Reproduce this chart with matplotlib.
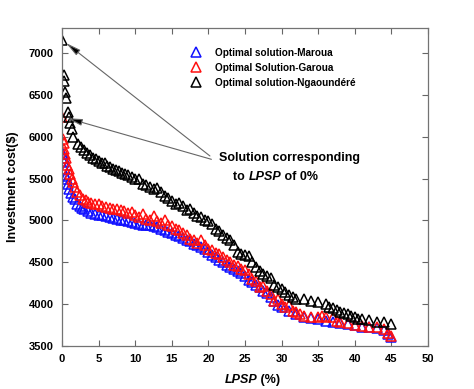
import matplotlib
matplotlib.use("Agg")
import matplotlib.pyplot as plt

plt.rcParams['font.family'] = ['Liberation Sans', 'DejaVu Sans']

# Optimal solutions (LPSP %, investment cost $)
maroua_lpsp = [0.1, 0.2, 0.3, 0.4, 0.5, 0.65, 0.8, 1.0, 1.2, 1.5, 1.8, 2.1, 2.4, 2.7, 3.0, 3.5,
               4.0, 4.5, 5.0, 5.5, 6.0, 6.5, 7.0, 7.5, 8.0, 8.5, 9.0, 9.5, 10.0, 10.5, 11.0, 11.5,
               12.0, 12.5, 13.0, 13.5, 14.0, 14.5, 15.0, 15.5, 16.0, 16.5, 17.0, 17.5, 18.0, 18.5,
               19.0, 19.5, 20.0, 20.5, 21.0, 21.5, 22.0, 22.5, 23.0, 23.5, 24.0, 24.5, 25.0, 25.5,
               26.0, 26.5, 27.0, 27.5, 28.0, 28.5, 29.0, 29.5, 30.0, 31.0, 32.0, 33.0, 34.0, 35.0,
               36.0, 37.0, 38.0, 39.0, 40.0, 41.0, 42.0, 43.0, 44.0, 44.5, 45.0]
maroua_cost = [5790, 5750, 5700, 5620, 5530, 5490, 5440, 5370, 5330, 5280, 5250, 5200, 5170, 5150, 5130, 5110,
               5090, 5080, 5070, 5060, 5050, 5040, 5030, 5020, 5010, 5000, 4990, 4985, 4970, 4960, 4950, 4945,
               4940, 4930, 4920, 4900, 4880, 4860, 4850, 4830, 4810, 4790, 4770, 4750, 4720, 4700,
               4680, 4660, 4620, 4590, 4560, 4530, 4500, 4470, 4440, 4420, 4400, 4370, 4330, 4290,
               4260, 4230, 4200, 4160, 4130, 4080, 4030, 3990, 3960, 3920, 3880, 3850, 3830, 3820,
               3800, 3790, 3770, 3760, 3750, 3730, 3720, 3710, 3690, 3640, 3600]

garoua_lpsp = [0, 0.1, 0.2, 0.3, 0.4, 0.5, 0.7, 0.9, 1.1, 1.3, 1.5, 1.8, 2.1, 2.4, 2.8, 3.2, 3.6,
               4.0, 4.5, 5.0, 5.5, 6.0, 6.5, 7.0, 7.5, 8.0, 8.5, 9.0, 9.5, 10.0, 10.5, 11.0, 11.5,
               12.0, 12.5, 13.0, 13.5, 14.0, 14.5, 15.0, 15.5, 16.0, 16.5, 17.0, 17.5, 18.0, 18.5,
               19.0, 19.5, 20.0, 20.5, 21.0, 21.5, 22.0, 22.5, 23.0, 23.5, 24.0, 24.5, 25.0, 25.5,
               26.0, 26.5, 27.0, 27.5, 28.0, 28.5, 29.0, 29.5, 30.0, 30.5, 31.0, 31.5, 32.0, 32.5,
               33.0, 34.0, 35.0, 35.5, 36.0, 37.0, 37.5, 38.0, 39.0, 40.0, 41.0, 42.0, 43.0, 44.0,
               44.5, 45.0]
garoua_cost = [6230, 5970, 5920, 5850, 5790, 5740, 5660, 5610, 5560, 5500, 5455, 5400, 5340, 5300, 5260, 5240, 5225,
               5210, 5200, 5190, 5170, 5160, 5150, 5140, 5130, 5120, 5110, 5090, 5100, 5070, 5040, 5080, 5020,
               5010, 5050, 4990, 4970, 5010, 4950, 4935, 4900, 4880, 4850, 4830, 4780, 4760, 4730,
               4760, 4700, 4660, 4640, 4610, 4600, 4560, 4530, 4500, 4470, 4450, 4420, 4410, 4360,
               4300, 4280, 4200, 4220, 4150, 4120, 4040, 4060, 4000, 3970, 3990, 3920, 3910, 3880,
               3860, 3850, 3840, 3860, 3840, 3850, 3800, 3780, 3770, 3750, 3740, 3720, 3720, 3700,
               3650, 3620]

ngaoundere_lpsp = [0, 0.2, 0.3, 0.4, 0.55, 0.8, 1.0, 1.1, 1.3, 1.5, 2.2, 2.6, 3.0, 3.4, 3.8, 4.2, 4.6,
                   5.0, 5.4, 5.8, 6.2, 6.6, 7.0, 7.4, 7.8, 8.2, 8.6, 9.0, 9.5, 10.0, 10.5, 11.0, 11.5,
                   12.0, 12.5, 13.0, 13.5, 14.0, 14.5, 15.0, 15.5, 16.0, 16.5, 17.0, 17.5, 18.0, 18.5,
                   19.0, 19.5, 20.0, 20.5, 21.0, 21.5, 22.0, 22.5, 23.0, 23.5, 24.0, 24.5, 25.0, 25.6,
                   26.0, 26.5, 27.0, 27.5, 28.0, 28.5, 29.0, 29.5, 30.0, 30.5, 31.0, 31.5, 32.0, 33.0,
                   34.0, 35.0, 36.0, 36.5, 37.0, 37.5, 38.0, 38.5, 39.0, 39.5, 40.0, 40.5, 41.0, 42.0,
                   43.0, 44.0, 45.0]
ngaoundere_cost = [7160, 6740, 6670, 6540, 6460, 6300, 6240, 6170, 6090, 6000, 5910, 5880, 5840, 5800, 5780, 5750, 5730,
                   5710, 5690, 5680, 5650, 5640, 5620, 5600, 5590, 5570, 5560, 5540, 5520, 5500, 5490, 5440, 5420,
                   5400, 5370, 5390, 5340, 5290, 5270, 5230, 5200, 5210, 5170, 5120, 5130, 5090, 5050,
                   5040, 5010, 4990, 4960, 4900, 4870, 4830, 4790, 4760, 4700, 4620, 4600, 4580, 4570,
                   4500, 4440, 4400, 4360, 4330, 4310, 4230, 4200, 4180, 4140, 4110, 4080, 4060, 4060,
                   4040, 4020, 4000, 3960, 3950, 3930, 3910, 3890, 3880, 3860, 3850, 3820, 3820, 3810,
                   3790, 3780, 3760]

fig = plt.figure(figsize=(4.74, 3.89), dpi=100)
ax = fig.add_axes([0.131, 0.111, 0.772, 0.817])

mk = dict(marker='^', linestyle='none', markersize=7, markerfacecolor='none', markeredgewidth=1.1)
ax.plot(maroua_lpsp, maroua_cost, color='#1010ff', label='Optimal solution-Maroua', **mk)
ax.plot(garoua_lpsp, garoua_cost, color='#ff1010', label='Optimal Solution-Garoua', **mk)
ax.plot(ngaoundere_lpsp, ngaoundere_cost, color='black', label='Optimal solution-Ngaoundéré', **mk)

ax.set_xlim(0, 50)
ax.set_ylim(3500, 7300)
ax.set_xticks(range(0, 51, 5))
ax.set_yticks(range(3500, 7001, 500))
ax.tick_params(direction='in', top=True, right=True, length=4, width=0.8, color='0.4',
               labelsize=8, pad=6)
for lab in ax.get_xticklabels() + ax.get_yticklabels():
    lab.set_fontweight('bold')
for sp in ax.spines.values():
    sp.set_color('0.45')
    sp.set_linewidth(0.9)

ax.set_ylabel('Investment cost($)', fontsize=9, fontweight='bold', labelpad=7)

# x label: italic LPSP followed by upright (%)
fig.text(0.543, 0.015, 'LPSP', fontsize=9, fontweight='bold', style='italic', ha='right', va='baseline')
fig.text(0.543, 0.015, ' (%)', fontsize=9, fontweight='bold', ha='left', va='baseline')

ax.legend(loc='upper left', bbox_to_anchor=(0.339, 0.95), frameon=False,
          prop={'weight': 'bold', 'size': 7.2}, handlelength=1.2, handletextpad=1.3,
          labelspacing=0.5, borderaxespad=0)

# arrows to the LPSP = 0% solutions
arrow = dict(arrowstyle='-|>,head_length=0.9,head_width=0.2', edgecolor='0.4', facecolor='black',
             lw=0.8, shrinkA=0, shrinkB=0, mutation_scale=10)
ax.annotate('', xy=(0.55, 7120), xytext=(20.2, 5770), arrowprops=arrow)
ax.annotate('', xy=(0.7, 6222), xytext=(20.4, 5730), arrowprops=arrow)

ax.text(21.4, 5745, 'Solution corresponding', fontsize=9, fontweight='bold', va='center')
t1 = ax.text(23.4, 5520, 'to ', fontsize=9, fontweight='bold', va='center')
t2 = ax.annotate('LPSP', xy=(1, 0), xycoords=t1, va='bottom', fontsize=9, fontweight='bold', style='italic')
ax.annotate(' of 0%', xy=(1, 0), xycoords=t2, va='bottom', fontsize=9, fontweight='bold')

fig.savefig('out.png', dpi=100)
